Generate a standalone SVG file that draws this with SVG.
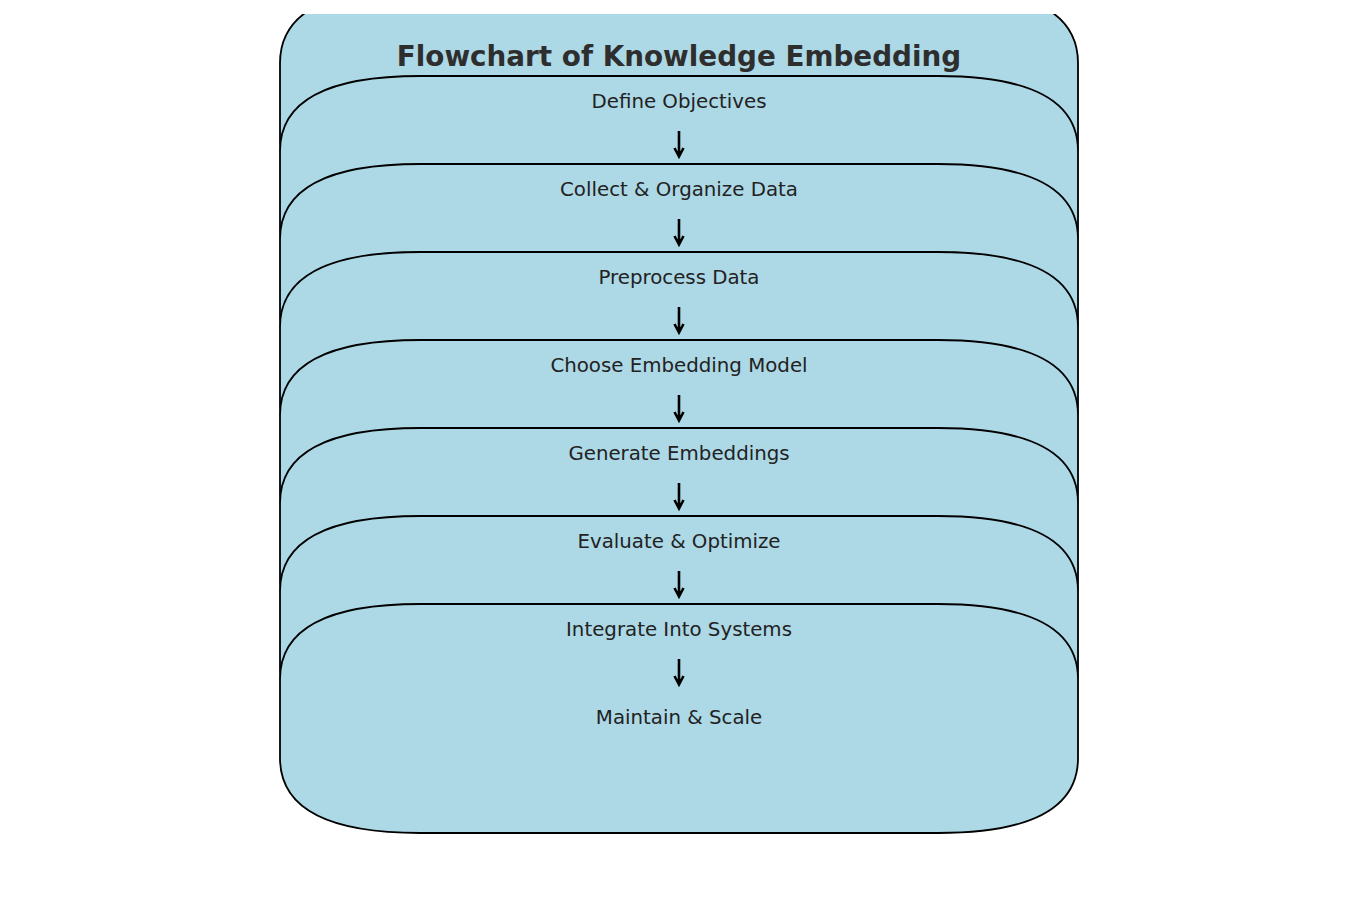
<svg xmlns="http://www.w3.org/2000/svg" xmlns:xlink="http://www.w3.org/1999/xlink" width="1358" height="909" viewBox="0 0 1358 909">
<style>
.box{fill:#ADD8E6;stroke:#000;stroke-width:1.8}
.lbl{font-family:"DejaVu Sans",sans-serif;font-size:19.8px;fill:#222;text-anchor:middle}
.ttl{font-family:"DejaVu Sans",sans-serif;font-size:27.8px;font-weight:bold;fill:#2e2e2e;text-anchor:middle}
.arr{fill:none;stroke:#000;stroke-width:2.6;stroke-linejoin:miter}
</style>
<defs>
<path id="bx" d="M420,0 L938,0 Q1078,0 1078,75 L1078,154 Q1078,229 938,229 L420,229 Q280,229 280,154 L280,75 Q280,0 420,0 Z"/>
<clipPath id="clip"><rect x="0" y="14" width="1358" height="895"/></clipPath>
</defs>
<rect width="1358" height="909" fill="#fff"/>
<g clip-path="url(#clip)">
<g id="title"><use xlink:href="#bx" href="#bx" class="box" transform="translate(0,-12)"/><text class="ttl" x="679" y="66">Flowchart of Knowledge Embedding</text></g>
<g id="n1"><use xlink:href="#bx" href="#bx" class="box" transform="translate(0,76)"/><text class="lbl" x="679" y="108">Define Objectives</text></g>
<g id="n2"><use xlink:href="#bx" href="#bx" class="box" transform="translate(0,164)"/><text class="lbl" x="679" y="196">Collect &amp; Organize Data</text></g>
<g id="n3"><use xlink:href="#bx" href="#bx" class="box" transform="translate(0,252)"/><text class="lbl" x="679" y="284">Preprocess Data</text></g>
<g id="n4"><use xlink:href="#bx" href="#bx" class="box" transform="translate(0,340)"/><text class="lbl" x="679" y="372">Choose Embedding Model</text></g>
<g id="n5"><use xlink:href="#bx" href="#bx" class="box" transform="translate(0,428)"/><text class="lbl" x="679" y="460">Generate Embeddings</text></g>
<g id="n6"><use xlink:href="#bx" href="#bx" class="box" transform="translate(0,516)"/><text class="lbl" x="679" y="548">Evaluate &amp; Optimize</text></g>
<g id="n7"><use xlink:href="#bx" href="#bx" class="box" transform="translate(0,604)"/><text class="lbl" x="679" y="636">Integrate Into Systems</text></g>
<g id="n8"><text class="lbl" x="679" y="724">Maintain &amp; Scale</text></g>
</g>
<g id="connectors">
<path class="arr" d="M679,131 L679,156 M674.5,148 L679,156.5 L683.5,148"/>
<path class="arr" d="M679,219 L679,244 M674.5,236 L679,244.5 L683.5,236"/>
<path class="arr" d="M679,307 L679,332 M674.5,324 L679,332.5 L683.5,324"/>
<path class="arr" d="M679,395 L679,420 M674.5,412 L679,420.5 L683.5,412"/>
<path class="arr" d="M679,483 L679,508 M674.5,500 L679,508.5 L683.5,500"/>
<path class="arr" d="M679,571 L679,596 M674.5,588 L679,596.5 L683.5,588"/>
<path class="arr" d="M679,659 L679,684 M674.5,676 L679,684.5 L683.5,676"/>
</g>
</svg>
